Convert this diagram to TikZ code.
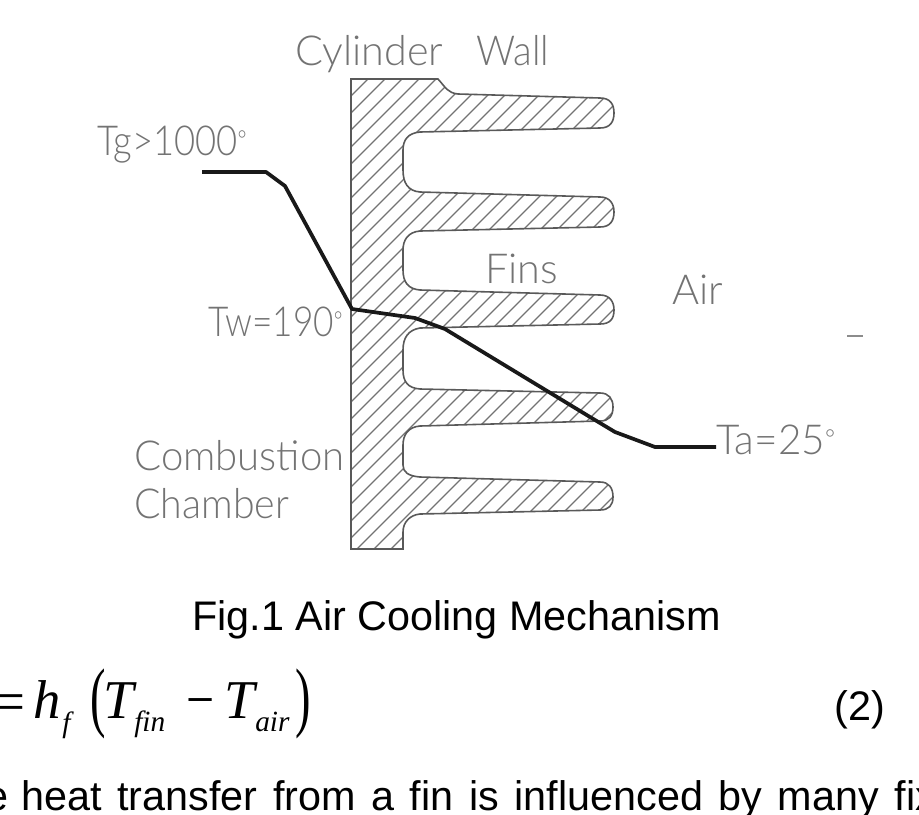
\documentclass[tikz,border=0pt]{standalone}
\usepackage{fontspec}
\usepackage{graphicx}
\setmainfont{Liberation Sans}
\newfontfamily\cadfont{Lato Light}
\newfontfamily\mathfont{Liberation Serif}
\newcommand{\cadeg}{\raisebox{5pt}{\scalebox{0.6}{°}}}
\tikzset{
  cadlabel/.style={anchor=base west,inner sep=0pt,text=black!55,font=\cadfont\fontsize{31}{31}\selectfont},
  cadscale/.style={xscale=#1,transform shape},
  bodytext/.style={anchor=base west,inner sep=0pt,font=\fontsize{31}{31}\selectfont},
  mathit/.style={anchor=base west,inner sep=0pt,font=\mathfont\itshape\fontsize{41}{41}\selectfont},
  mathsub/.style={anchor=base west,inner sep=0pt,font=\mathfont\itshape\fontsize{22}{22}\selectfont},
  mathrm/.style={anchor=base west,inner sep=0pt,font=\mathfont\fontsize{44}{44}\selectfont},
  mathparen/.style={anchor=base west,inner sep=0pt,font=\mathfont\fontsize{58}{58}\selectfont},
  hatchline/.style={black!55,line width=0.9pt},
  outline/.style={black!65,line width=1.2pt},
  templine/.style={black!90,line width=2.8pt,line join=round}
}
\begin{document}
\begin{tikzpicture}[x=0.75pt,y=-0.75pt]
  \useasboundingbox (0,0) rectangle (919,814);
  \clip (0,0) rectangle (919,814);
  \def\wallpath{(351,79) -- (438,79) .. controls (446,88) and (448,93) .. (458,94)
    -- (600,98) .. controls (610,98) and (614,104) .. (614,113) .. controls (614,122) and (610,128) .. (600,128)
    -- (420,132) .. controls (408,133) and (403,140) .. (403,150) -- (403,170) .. controls (403,183) and (408,191) .. (420,192)
    -- (600,197) .. controls (610,197) and (614,204) .. (614,212) .. controls (614,221) and (610,227) .. (600,227)
    -- (420,231) .. controls (408,232) and (403,240) .. (403,250) -- (403,270) .. controls (403,282) and (408,289) .. (420,290)
    -- (600,295) .. controls (610,295) and (614,302) .. (614,310) .. controls (614,319) and (610,324) .. (600,324)
    -- (420,328) .. controls (408,330) and (403,338) .. (403,350) -- (403,370) .. controls (403,382) and (408,388) .. (420,389)
    -- (600,393) .. controls (609,393) and (613,399) .. (613,407) .. controls (613,416) and (609,421) .. (600,421)
    -- (420,426) .. controls (408,427) and (403,435) .. (403,445) -- (403,465) .. controls (403,472) and (408,476) .. (420,477)
    -- (600,482) .. controls (609,482) and (613,488) .. (613,497) .. controls (613,505) and (609,510) .. (600,510)
    -- (420,514) .. controls (410,515) and (403,522) .. (403,532) -- (403,549) -- (351,549) -- cycle}
  %hatching of wall and fins
  \begin{scope}
    \clip \wallpath;
    \foreach \c in {430,447,...,1180}
      \draw[hatchline] (\c-120,120) ++ (-700,700) -- ++ (1400,-1400);
  \end{scope}
  \draw[outline] \wallpath;
  %temperature line
  \node[cadlabel,cadscale=0.98] (ta) at (716,454) {Ta=25\cadeg};
  \coordinate (tgstart) at (202,172);
  \coordinate (twpoint) at (352,309);
  \draw[templine] (tgstart) -- (266,172) -- (285,186) -- (twpoint) -- (415,318) -- (445,329)
    -- (590,417) -- (615,432) -- (655,447) -- (ta.base west |- 655,447);
  %labels
  \node[cadlabel] (cylinder) at (295,65) {Cylinder};
  \node[cadlabel,cadscale=0.93] (wall) at (476,65) {Wall};
  \node[cadlabel,cadscale=0.88] (tg) at (97,155) {Tg>1000\cadeg};
  \node[cadlabel,cadscale=0.85] (tw) at (208,336) {Tw=190\cadeg};
  \node[cadlabel] (fins) at (485,283) {Fins};
  \node[cadlabel] (air) at (672,304) {Air};
  \node[cadlabel,cadscale=0.97] (combustion) at (134,470) {Combustion};
  \node[cadlabel,cadscale=0.95] (chamber) at (134,518) {Chamber};
  \coordinate (dashl) at (847,336);
  \coordinate (dashr) at (863,336);
  \draw[black!45,line width=0.8pt] (dashl) -- (dashr);
  %caption and equation
  \node[bodytext] (caption) at (192,630) {Fig.1 Air Cooling Mechanism};
  \node[mathrm] (eq) at (-8,721) {=};
  \node[mathit] (h) at (33,718) {h};
  \node[mathsub] (hf) at (62,732) {f};
  \node[mathparen] (lp) at (90,722) {\scalebox{0.6}[1]{(}};
  \node[mathit] (t1) at (103,718) {T};
  \node[mathsub] (tfin) at (134,731) {fin};
  \node[mathrm] (minus) at (186,719) {\scalebox{0.85}[1]{−}};
  \node[mathit] (t2) at (224,718) {T};
  \node[mathsub] (tair) at (255,731) {air};
  \node[mathparen] (rp) at (295,722) {\scalebox{0.6}[1]{)}};
  \node[bodytext] (eqno) at (834,720) {(2)};
  \node[bodytext] (parastart) at (-15,810) {e};
  \node[bodytext] (para) at (21,810) {heat\hspace{0.1em} transfer\hspace{0.1em} from\hspace{0.1em} a\hspace{0.1em} fin\hspace{0.1em} is\hspace{0.1em} influenced\hspace{0.1em} by\hspace{0.1em} many\hspace{0.1em} fix};
\end{tikzpicture}
\end{document}
